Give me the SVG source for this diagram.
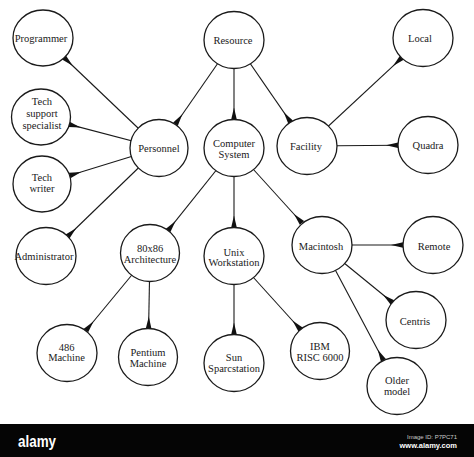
<svg xmlns="http://www.w3.org/2000/svg" width="474" height="457" viewBox="0 0 474 457">
<style>
.n ellipse{fill:#fff;stroke:#1a1a1a;stroke-width:1.3}
.n text{font-family:"Liberation Serif","Times New Roman",serif;font-size:10.5px;fill:#1a1a1a;text-anchor:middle}
.e line{stroke:#1a1a1a;stroke-width:1.1;marker-end:url(#a)}
</style>
<defs>
<marker id="a" viewBox="0 0 12 8" refX="12" refY="4" markerWidth="12" markerHeight="8" markerUnits="userSpaceOnUse" orient="auto">
<path d="M0,4 L12,1.2 L12,6.8 Z" fill="#111"/>
</marker>
</defs>
<rect width="474" height="457" fill="#fff"/>
<g class="e" id="connectors">
<line x1="234" y1="40" x2="175.5" y2="124.2"/>
<line x1="234" y1="40" x2="234" y2="119.5"/>
<line x1="234" y1="40" x2="290.6" y2="122.1"/>
<line x1="159" y1="148" x2="64" y2="57.5"/>
<line x1="159" y1="148" x2="69" y2="124.4"/>
<line x1="159" y1="148" x2="69.7" y2="175.5"/>
<line x1="159" y1="148" x2="67.5" y2="236.5"/>
<line x1="307" y1="146" x2="401.8" y2="57.8"/>
<line x1="307" y1="146" x2="398" y2="145.2"/>
<line x1="234" y1="148" x2="168.1" y2="230.4"/>
<line x1="234" y1="148" x2="234" y2="227.5"/>
<line x1="234" y1="148" x2="302" y2="223"/>
<line x1="150" y1="253" x2="86" y2="330.5"/>
<line x1="150" y1="253" x2="148.6" y2="328.5"/>
<line x1="234" y1="256" x2="234" y2="334.5"/>
<line x1="234" y1="256" x2="300.5" y2="329.5"/>
<line x1="322" y1="245" x2="403" y2="245"/>
<line x1="322" y1="245" x2="392.5" y2="302.5"/>
<line x1="322" y1="245" x2="383.4" y2="360.4"/>
</g>
<g class="n" id="resource"><ellipse cx="234" cy="40" rx="30" ry="28.5"/><text x="233" y="43.5">Resource</text></g>
<g class="n" id="personnel"><ellipse cx="159" cy="148" rx="29" ry="28.5"/><text x="159" y="151.5">Personnel</text></g>
<g class="n" id="computer-system"><ellipse cx="234" cy="148" rx="30" ry="28.5"/><text x="234" y="146.5">Computer</text><text x="234" y="157.5">System</text></g>
<g class="n" id="facility"><ellipse cx="307" cy="146" rx="30" ry="28.5"/><text x="306" y="149.5">Facility</text></g>
<g class="n" id="programmer"><ellipse cx="43" cy="38" rx="30" ry="28"/><text x="41" y="41.5">Programmer</text></g>
<g class="n" id="tech-support"><ellipse cx="41" cy="117" rx="29.5" ry="28"/><text x="42" y="104.5">Tech</text><text x="42" y="116.5">support</text><text x="42" y="128.5">specialist</text></g>
<g class="n" id="tech-writer"><ellipse cx="42" cy="184" rx="29" ry="28"/><text x="42" y="180.5">Tech</text><text x="42" y="191.5">writer</text></g>
<g class="n" id="administrator"><ellipse cx="46" cy="256" rx="30" ry="28.5"/><text x="44" y="260">Administrator</text></g>
<g class="n" id="local"><ellipse cx="423" cy="38" rx="30" ry="28.5"/><text x="420" y="41.5">Local</text></g>
<g class="n" id="quadra"><ellipse cx="428" cy="145" rx="30" ry="28.5"/><text x="428" y="148.5">Quadra</text></g>
<g class="n" id="arch-80x86"><ellipse cx="150" cy="253" rx="29.5" ry="28.5"/><text x="150" y="251.5">80x86</text><text x="150" y="262.5">Architecture</text></g>
<g class="n" id="unix-workstation"><ellipse cx="234" cy="256" rx="30" ry="28.5"/><text x="234" y="255.5">Unix</text><text x="234" y="265.5">Workstation</text></g>
<g class="n" id="macintosh"><ellipse cx="322" cy="245" rx="30" ry="28.5"/><text x="321" y="249.5">Macintosh</text></g>
<g class="n" id="machine-486"><ellipse cx="67" cy="353" rx="30" ry="28.5"/><text x="66.5" y="350.5">486</text><text x="66.5" y="360.5">Machine</text></g>
<g class="n" id="pentium-machine"><ellipse cx="148" cy="357" rx="29.5" ry="28.5"/><text x="148" y="355.5">Pentium</text><text x="148" y="366.5">Machine</text></g>
<g class="n" id="sun-sparcstation"><ellipse cx="234" cy="363" rx="30" ry="28.5"/><text x="234" y="360.5">Sun</text><text x="234" y="371.5">Sparcstation</text></g>
<g class="n" id="ibm-risc"><ellipse cx="320" cy="351" rx="29.5" ry="28.5"/><text x="320" y="349.5">IBM</text><text x="320" y="360.5">RISC 6000</text></g>
<g class="n" id="remote"><ellipse cx="433" cy="245" rx="30" ry="28.5"/><text x="434" y="249.5">Remote</text></g>
<g class="n" id="centris"><ellipse cx="416" cy="320" rx="30" ry="28.5"/><text x="415" y="324.5">Centris</text></g>
<g class="n" id="older-model"><ellipse cx="397" cy="386" rx="30" ry="28.5"/><text x="397" y="383.5">Older</text><text x="397" y="394.5">model</text></g>
<rect x="0" y="424" width="474" height="33" fill="#050505"/>
<text x="18" y="447" font-family="Liberation Sans,Arial,sans-serif" font-weight="bold" font-size="17" fill="#fff" textLength="38" lengthAdjust="spacingAndGlyphs">alamy</text>
<text x="457" y="438.5" font-family="Liberation Sans,Arial,sans-serif" font-size="6" fill="#ccc" text-anchor="end">Image ID: P7PC71</text>
<text x="457" y="447.5" font-family="Liberation Sans,Arial,sans-serif" font-weight="bold" font-size="7.5" fill="#fff" text-anchor="end">www.alamy.com</text>
</svg>
